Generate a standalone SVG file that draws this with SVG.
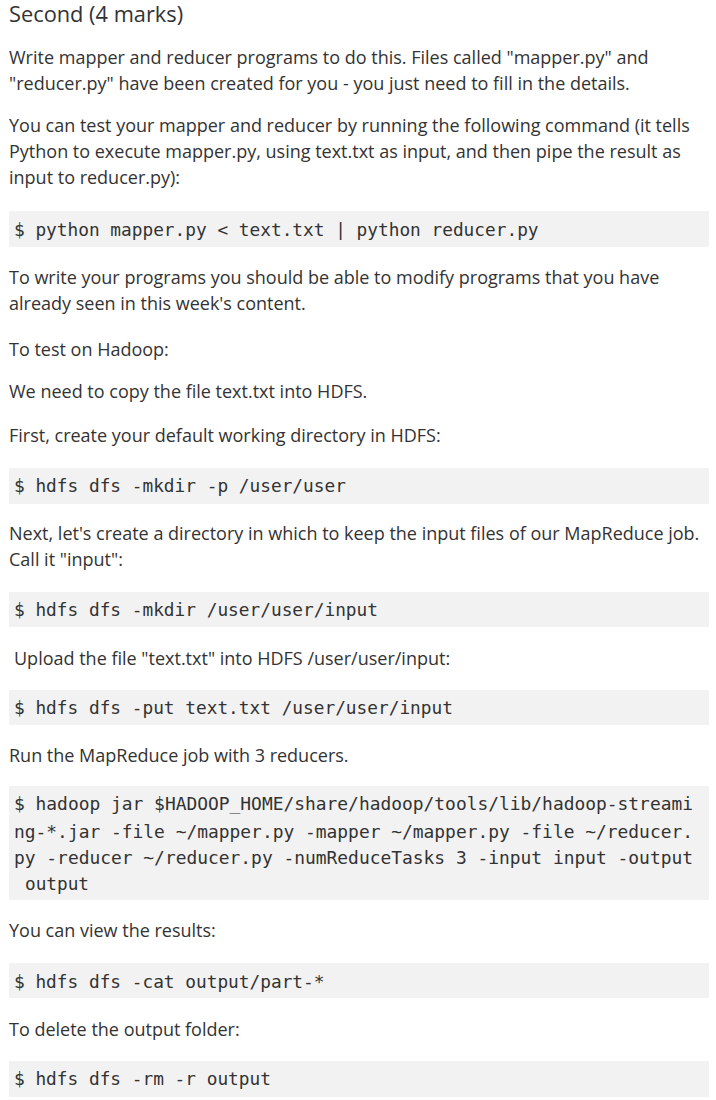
<svg xmlns="http://www.w3.org/2000/svg" width="716" height="1100" viewBox="0 0 716 1100">
<style>
.t{font-family:"Open Sans","Noto Sans",sans-serif;font-size:18px;fill:#333}
.h{font-family:"Open Sans","Noto Sans",sans-serif;font-size:21.8px;fill:#333}
.c{font-family:"DejaVu Sans Mono","Liberation Mono",monospace;font-size:17.8px;fill:#333}
.b{fill:#f2f2f2}
</style>
<rect width="716" height="1100" fill="#fff"/>
<text class="h" x="9" y="22">Second (4 marks)</text>
<text class="t" x="9" y="64">Write mapper and reducer programs to do this. Files called "mapper.py" and</text>
<text class="t" x="9" y="90">"reducer.py" have been created for you - you just need to fill in the details.</text>
<text class="t" x="9" y="132">You can test your mapper and reducer by running the following command (it tells</text>
<text class="t" x="9" y="158">Python to execute mapper.py, using text.txt as input, and then pipe the result as</text>
<text class="t" x="9" y="184">input to reducer.py):</text>
<rect class="b" x="9" y="211" width="700" height="36"/>
<text class="c" x="14" y="236">$ python mapper.py &lt; text.txt | python reducer.py</text>
<text class="t" x="9" y="284">To write your programs you should be able to modify programs that you have</text>
<text class="t" x="9" y="310">already seen in this week's content.</text>
<text class="t" x="9" y="356">To test on Hadoop:</text>
<text class="t" x="9" y="398">We need to copy the file text.txt into HDFS.</text>
<text class="t" x="9" y="442">First, create your default working directory in HDFS:</text>
<rect class="b" x="9" y="468" width="700" height="36"/>
<text class="c" x="14" y="492">$ hdfs dfs -mkdir -p /user/user</text>
<text class="t" x="9" y="540">Next, let's create a directory in which to keep the input files of our MapReduce job.</text>
<text class="t" x="9" y="566">Call it "input":</text>
<rect class="b" x="9" y="592" width="700" height="35"/>
<text class="c" x="14" y="616">$ hdfs dfs -mkdir /user/user/input</text>
<text class="t" x="14" y="665">Upload the file "text.txt" into HDFS /user/user/input:</text>
<rect class="b" x="9" y="690" width="700" height="35"/>
<text class="c" x="14" y="714">$ hdfs dfs -put text.txt /user/user/input</text>
<text class="t" x="9" y="762">Run the MapReduce job with 3 reducers.</text>
<rect class="b" x="9" y="786" width="700" height="114"/>
<text class="c" x="14" y="810" textLength="679" lengthAdjust="spacingAndGlyphs">$ hadoop jar $HADOOP_HOME/share/hadoop/tools/lib/hadoop-streami</text>
<text class="c" x="14" y="838" textLength="679" lengthAdjust="spacingAndGlyphs">ng-*.jar -file ~/mapper.py -mapper ~/mapper.py -file ~/reducer.</text>
<text class="c" x="14" y="864" textLength="679" lengthAdjust="spacingAndGlyphs">py -reducer ~/reducer.py -numReduceTasks 3 -input input -output</text>
<text class="c" x="25" y="890" textLength="64" lengthAdjust="spacingAndGlyphs">output</text>
<text class="t" x="9" y="937">You can view the results:</text>
<rect class="b" x="9" y="963" width="700" height="35"/>
<text class="c" x="14" y="988">$ hdfs dfs -cat output/part-*</text>
<text class="t" x="9" y="1036">To delete the output folder:</text>
<rect class="b" x="9" y="1061" width="700" height="36"/>
<text class="c" x="14" y="1085">$ hdfs dfs -rm -r output</text>
</svg>
